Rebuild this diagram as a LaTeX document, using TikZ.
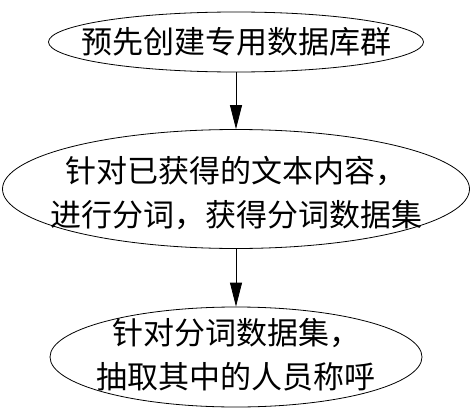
\documentclass[tikz,border=0pt]{standalone}
\usepackage{fontspec}
\setmainfont{Noto Sans CJK SC}
\usetikzlibrary{shapes.geometric,arrows.meta}

\begin{document}
\begin{tikzpicture}[x=1pt,y=1pt,
    stage/.style={ellipse,draw,line width=0.8pt,inner sep=0pt},
    stagetext/.style={align=center,inner sep=0pt,font=\fontsize{31}{44}\selectfont},
    flow/.style={-{Triangle[length=24pt,width=12pt]},line width=0.8pt}]
    \useasboundingbox (0,0) rectangle (474,-412);
    % three stages
    \node[stage,minimum width=375,minimum height=60] (create) at (236,-42) {};
    \node[stage,minimum width=467,minimum height=119] (segment) at (236,-189) {};
    \node[stage,minimum width=372,minimum height=100] (extract) at (236,-357) {};
    \node[stagetext] (createtext) at (create) {预先创建专用数据库群};
    \node[stagetext] (segmenttext) at ([yshift=-4]segment.center) {针对已获得的文本内容，\\进行分词，获得分词数据集};
    \node[stagetext] (extracttext) at ([yshift=2]extract.center) {针对分词数据集，\\抽取其中的人员称呼};
    % arrows
    \draw[flow] (create) -- (segment);
    \draw[flow] (segment) -- (extract);
\end{tikzpicture}
\end{document}
